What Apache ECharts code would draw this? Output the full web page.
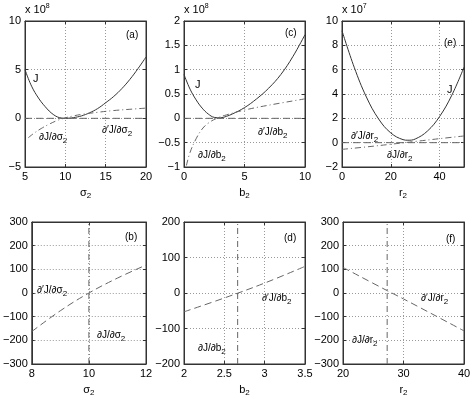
<!DOCTYPE html>
<html>
<head>
<meta charset="utf-8">
<script src="https://cdn.jsdelivr.net/npm/echarts@6/dist/echarts.min.js"></script>
<style>
  html, body { margin: 0; padding: 0; background: #fff; }
  #chart { width: 474px; height: 398px; }
</style>
</head>
<body>
<div id="chart"></div>
<script>
// panel (a): J vs sigma2 (x 1e8)
const aX = [5, 5.5, 6, 6.5, 7, 7.5, 8, 8.5, 9, 9.5, 10, 10.5, 11, 12, 13, 14, 15, 16, 17, 18, 19, 20];
const aJ = [5.0, 3.9, 3.0, 2.3, 1.7, 1.2, 0.75, 0.4, 0.15, 0.03, 0, 0.02, 0.07, 0.25, 0.57, 1.0, 1.6, 2.25, 3.05, 4.0, 5.1, 6.3];
const aDX = [5.4, 6, 7, 8, 9, 10, 11, 12, 14, 16, 18, 20];
const aDJ = [-2.0, -1.6, -1.05, -0.6, -0.22, 0.05, 0.25, 0.4, 0.62, 0.8, 0.93, 1.05];

// panel (c): J vs b2 (x 1e8)
const cX = [0, 0.5, 1, 1.5, 2, 2.5, 3, 3.5, 4, 5, 6, 7, 8, 9, 10];
const cJ = [0.9, 0.6, 0.38, 0.21, 0.09, 0.02, 0.01, 0.04, 0.09, 0.22, 0.4, 0.62, 0.9, 1.27, 1.72];
const cDX = [0.2, 0.5, 1, 1.5, 2, 2.7, 3.5, 5, 7, 10];
const cDJ = [-0.97, -0.7, -0.42, -0.22, -0.1, 0, 0.07, 0.17, 0.27, 0.4];

// panel (e): J vs r2 (x 1e7)
const eX = [0, 5, 10, 15, 20, 25, 27, 30, 35, 40, 45, 50];
const eJ = [9.2, 6.2, 3.75, 1.95, 0.8, 0.25, 0.2, 0.3, 0.95, 2.15, 3.9, 6.2];
const eDX = [0, 10, 20, 30, 40, 50];
const eDJ = [-0.55, -0.35, -0.13, 0.1, 0.33, 0.55];

// bottom row: second derivative lines and vertical zero of dJ
const bX = [8, 9, 10, 11, 12];
const bD2 = [-163, -75, 0, 63, 118];
const bZero = 10;
const dX = [2, 2.5, 3, 3.5];
const dD2 = [-53, -14, 28, 75];
const dZero = 2.665;
const fX = [20, 27.3, 30, 40];
const fD2 = [108, 10, -25, -160];
const fZero = 27.3;

const font = 'Liberation Sans, Arial, sans-serif';
const zip = (xs, ys) => xs.map((x, i) => [x, ys[i]]);
const fmt = v => String(v).replace('-', '\u2212');

const chart = echarts.init(document.getElementById('chart'));

const grids = [
  { left: 25, top: 21, width: 121, height: 146 },
  { left: 184, top: 21, width: 121, height: 146 },
  { left: 342, top: 21, width: 122, height: 146 },
  { left: 25, top: 222, width: 121, height: 145 },
  { left: 184, top: 222, width: 121, height: 145 },
  { left: 343, top: 222, width: 121, height: 145 }
].map(g => Object.assign(g, { show: true, borderColor: '#333', borderWidth: 1, containLabel: false }));

const rich = {
  m: { fontFamily: font, fontSize: 11, color: '#000' },
  t: { fontFamily: font, fontSize: 10, color: '#000' },
  s: { fontFamily: font, fontSize: 8, color: '#000', padding: [7, 0, 0, 0] },
  p: { fontFamily: font, fontSize: 7, color: '#000', padding: [0, 0, 7, 0] }
};

const axisBase = (min, max, interval, name) => ({
  type: 'value',
  min, max, interval,
  name: name ? '{m|' + name + '}{s|2}' : '',
  nameLocation: 'middle',
  nameGap: 18,
  nameTextStyle: { rich },
  axisLine: { show: true, onZero: false, lineStyle: { color: '#333' } },
  axisTick: { show: true, inside: true, length: 3, lineStyle: { color: '#333' } },
  axisLabel: { fontFamily: font, fontSize: 11, color: '#000', margin: 4, formatter: fmt },
  splitLine: { show: true, lineStyle: { color: '#999', type: [1, 2], width: 1 } }
});

// tick-only copies on the top / right sides, like the MATLAB box
const mirror = (a, i, pos) => Object.assign({}, a, {
  gridIndex: i, position: pos, name: '',
  axisLabel: { show: false },
  splitLine: { show: false }
});

const xRanges = [[5, 20, 5, '\u03c3'], [0, 10, 5, 'b'], [0, 50, 20, 'r'],
                 [8, 12, 2, '\u03c3'], [2, 3.5, 0.5, 'b'], [20, 40, 10, 'r']];
const yRanges = [[-5, 10, 5], [-1, 2, 0.5], [-2, 10, 2],
                 [-300, 300, 100], [-200, 200, 100], [-300, 300, 100]];

const xAxes = xRanges.map((r, i) => Object.assign(axisBase(...r), { gridIndex: i, position: 'bottom' }));
xAxes[2].axisLabel.showMaxLabel = false;
const yAxes = yRanges.map((r, i) => Object.assign(axisBase(...r), { gridIndex: i, position: 'left' }));
xRanges.forEach((r, i) => xAxes.push(mirror(axisBase(...r), i, 'top')));
yRanges.forEach((r, i) => yAxes.push(mirror(axisBase(...r), i, 'right')));

const solid = { color: '#333', width: 1 };
const dashDot = { color: '#666', width: 1, type: [6, 3, 1, 3] };
const dashed = { color: '#666', width: 1, type: [7, 4] };

const line = (i, data, style, smooth) => ({
  type: 'line', xAxisIndex: i, yAxisIndex: i, data,
  showSymbol: false, smooth: smooth ? 0.4 : false,
  lineStyle: style, silent: true, animation: false
});

const series = [
  line(0, zip(aX, aJ), solid, true),
  line(0, zip(aDX, aDJ), dashDot, true),
  line(0, [[5, 0], [20, 0]], dashed),
  line(1, zip(cX, cJ), solid, true),
  line(1, zip(cDX, cDJ), dashDot, true),
  line(1, [[0, 0], [10, 0]], dashed),
  line(2, zip(eX, eJ), solid, true),
  line(2, zip(eDX, eDJ), dashDot, true),
  line(2, [[0, 0], [50, 0]], dashed),
  line(3, zip(bX, bD2), dashed, true),
  line(3, [[bZero, -300], [bZero, 300]], dashDot),
  line(4, zip(dX, dD2), dashed, true),
  line(4, [[dZero, -200], [dZero, 200]], dashDot),
  line(5, zip(fX, fD2), dashed, true),
  line(5, [[fZero, -300], [fZero, 300]], dashDot)
];

const txt = (x, y, text) => ({
  type: 'text', x, y,
  style: { text, rich, align: 'left', verticalAlign: 'middle' }
});

const graphic = [
  txt(25, 10, '{m|x 10}{p|8}'),
  txt(184, 10, '{m|x 10}{p|8}'),
  txt(342, 10, '{m|x 10}{p|7}'),
  txt(126, 35, '{t|(a)}'),
  txt(285, 33, '{t|(c)}'),
  txt(444, 43, '{t|(e)}'),
  txt(33, 79, '{m|J}'),
  txt(195, 85, '{m|J}'),
  txt(447, 90, '{m|J}'),
  txt(39, 137, '{t|\u2202J/\u2202\u03c3}{s|2}'),
  txt(102, 130, '{t|\u2202\u2032J/\u2202\u03c3}{s|2}'),
  txt(198, 155, '{t|\u2202J/\u2202b}{s|2}'),
  txt(258, 132, '{t|\u2202\u2032J/\u2202b}{s|2}'),
  txt(351, 136, '{t|\u2202\u2032J/\u2202r}{s|2}'),
  txt(387, 155, '{t|\u2202J/\u2202r}{s|2}'),
  txt(125, 237, '{t|(b)}'),
  txt(284, 238, '{t|(d)}'),
  txt(446, 239, '{t|(f)}'),
  txt(37, 290, '{t|\u2202\u2032J/\u2202\u03c3}{s|2}'),
  txt(97, 335, '{t|\u2202J/\u2202\u03c3}{s|2}'),
  txt(262, 298, '{t|\u2202\u2032J/\u2202b}{s|2}'),
  txt(198, 348, '{t|\u2202J/\u2202b}{s|2}'),
  txt(421, 298, '{t|\u2202\u2032J/\u2202r}{s|2}'),
  txt(352, 340, '{t|\u2202J/\u2202r}{s|2}')
];

chart.setOption({
  animation: false,
  grid: grids,
  xAxis: xAxes,
  yAxis: yAxes,
  series,
  graphic
});
</script>
</body>
</html>
